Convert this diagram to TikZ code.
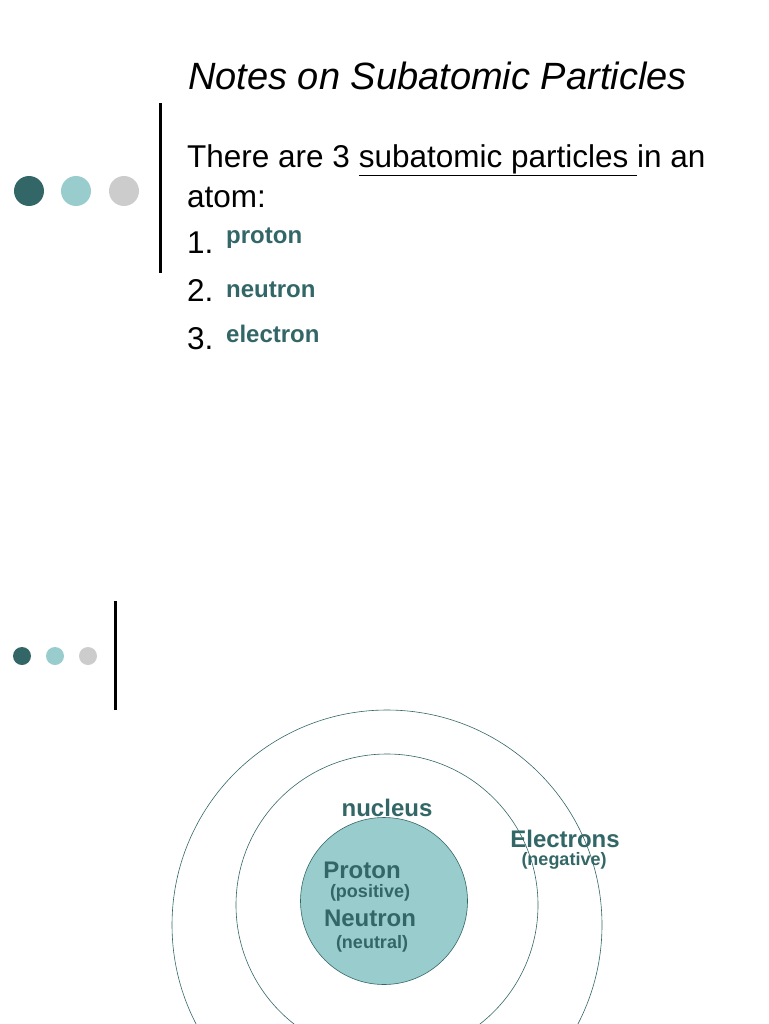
\documentclass[tikz,border=0pt]{standalone}
\usepackage{fontspec}
\setmainfont{Liberation Sans}
\definecolor{dteal}{HTML}{336666}
\definecolor{lteal}{HTML}{99CCCC}
\definecolor{lgrey}{HTML}{CCCCCC}
\begin{document}
\begin{tikzpicture}[x=1pt,y=-1pt,
  tx/.style={anchor=west,inner sep=0pt,font=\fontsize{31.5}{36}\selectfont},
  item/.style={anchor=west,inner sep=0pt,text=dteal,font=\fontsize{24}{28}\selectfont\bfseries},
  lbl/.style={inner sep=0pt,text=dteal,font=\fontsize{24}{28}\selectfont\bfseries},
  sm/.style={inner sep=0pt,text=dteal,font=\fontsize{18}{21}\selectfont\bfseries},
  ring/.style={draw=dteal,line width=0.6pt}]
\useasboundingbox (0,0) rectangle (768,1024);
\clip (0,0) rectangle (768,1024);
\node[anchor=west,inner sep=0pt,font=\fontsize{38}{44}\selectfont\itshape] (title) at (188,76) {Notes on Subatomic Particles};
\draw[line width=3pt] (160,103) -- (160,273);
\fill[dteal] (29,191) circle (15);
\fill[lteal] (76,191) circle (15);
\fill[lgrey] (124,191) circle (15);
\node[tx] (l1) at (187,160) {There are 3 \underline{subatomic particles }in an};
\node[tx] (l2) at (187,197) {atom:};
\node[tx] (n1) at (187,243) {1.};
\node[tx] (n2) at (187,291) {2.};
\node[tx] (n3) at (187,339) {3.};
\node[item] (p) at (226,238) {proton};
\node[item] (n) at (226,290) {neutron};
\node[item] (e) at (226,334) {electron};
\fill[dteal] (22,656) circle (9);
\fill[lteal] (55,656) circle (9);
\fill[lgrey] (88,656) circle (9);
\draw[line width=3pt] (115,601) -- (115,710);
\draw[ring] (387,925) circle (215);
\draw[ring] (387,905) circle (151);
\draw[ring,fill=lteal] (384,901) circle (83.5);
\node[lbl] (nuc) at (387,808) {nucleus};
\node[lbl] (el) at (565,839) {Electrons};
\node[sm] (neg) at (564,861) {(negative)};
\node[lbl] (pr) at (362,870) {Proton};
\node[sm] (pos) at (370,893) {(positive)};
\node[lbl] (ne) at (370,918) {Neutron};
\node[sm] (neu) at (372,944) {(neutral)};
\end{tikzpicture}
\end{document}
